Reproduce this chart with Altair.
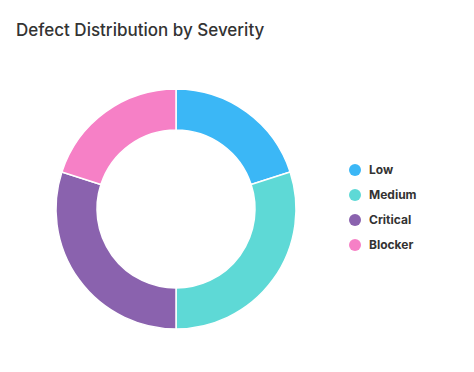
import altair as alt
import pandas as pd

categories = ["Low", "Medium", "Critical", "Blocker"]
values = [20, 30, 30, 20]
colors = ["#3bb7f6", "#5ed9d6", "#8a62ae", "#f680c6"]

df = pd.DataFrame({"Severity": categories, "Count": values, "idx": list(range(len(categories)))})

chart = alt.Chart(df).mark_arc(
    innerRadius=79, outerRadius=120, stroke="white", strokeWidth=1.5
).encode(
    theta=alt.Theta("Count:Q", stack=True),
    color=alt.Color(
        "Severity:N",
        scale=alt.Scale(domain=categories, range=colors),
        sort=categories,
        legend=alt.Legend(
            title=None,
            orient="none",
            legendX=293,
            legendY=75,
            symbolType="circle",
            symbolSize=144,
            symbolStrokeWidth=0,
            labelFont="Inter",
            labelFontSize=12,
            labelFontWeight="bold",
            labelColor="#333333",
            labelOffset=8,
            rowPadding=13,
            padding=0,
        ),
    ),
    order=alt.Order("idx:Q"),
).properties(
    width=240,
    height=240,
    padding={"left": 48, "top": 81, "right": 170, "bottom": 35},
    autosize=alt.AutoSizeParams(type="none"),
    title=alt.TitleParams(
        "Defect Distribution by Severity",
        anchor="start",
        font="Inter",
        fontSize=17,
        fontWeight=500,
        color="#333333",
        dx=-37,
        offset=46,
    ),
).configure_view(stroke=None)

chart.save("out.html", embed_options={"renderer": "svg", "actions": False})
